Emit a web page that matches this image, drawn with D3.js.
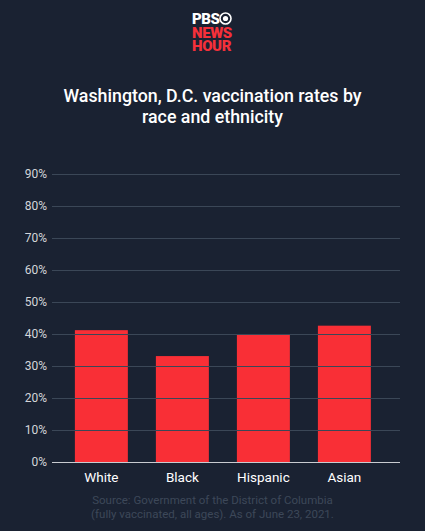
<!DOCTYPE html>
<html><head><meta charset="utf-8">
<script src="https://cdn.jsdelivr.net/npm/d3@7"></script>
<style>html,body{margin:0;padding:0;background:#1a2232;}svg{display:block;}</style>
</head><body>
<svg id="c" width="425" height="531"></svg>
<script>
const categories = ["White", "Black", "Hispanic", "Asian"];
const values = [41.2, 33.1, 40.0, 42.6];
const yTicks = [0, 10, 20, 30, 40, 50, 60, 70, 80, 90];
const titleLines = ["Washington, D.C. vaccination rates by", "race and ethnicity"];
const sourceLines = ["Source: Government of the District of Columbia", "(fully vaccinated, all ages). As of June 23, 2021."];

const svg = d3.select("#c");
const W = 425, H = 531;
svg.append("rect").attr("width", W).attr("height", H).attr("fill", "#1a2232");

// logo
const logo = svg.append("g").attr("font-family", "Roboto, 'Open Sans', sans-serif").attr("font-weight", 900);
logo.append("text").attr("x", 192).attr("y", 24).attr("font-size", 15).attr("fill", "#fff").attr("letter-spacing", -0.5).text("PBS");
logo.append("circle").attr("cx", 225.5).attr("cy", 18.5).attr("r", 5.5).attr("fill", "none").attr("stroke", "#fff").attr("stroke-width", 1.6);
logo.append("circle").attr("cx", 225.5).attr("cy", 18.5).attr("r", 2.6).attr("fill", "#fff");
logo.append("text").attr("x", 192).attr("y", 37.5).attr("font-size", 15).attr("fill", "#f5303a").attr("letter-spacing", -0.4).text("NEWS");
logo.append("text").attr("x", 192).attr("y", 50.5).attr("font-size", 15).attr("fill", "#f5303a").attr("letter-spacing", -0.4).text("HOUR");

// title
svg.append("g").selectAll("text").data(titleLines).join("text")
  .attr("x", 212.5).attr("y", (d, i) => 102 + i * 21)
  .attr("text-anchor", "middle").attr("fill", "#ffffff")
  .attr("font-family", "Roboto, sans-serif").attr("font-weight", 500).attr("font-size", 17.8)
  .text(d => d);

const x = d3.scaleBand().domain(categories).range([52, 400]).paddingInner(0.346).paddingOuter(0.321).align(0.44);
const y = d3.scaleLinear().domain([0, 90]).range([462, 174]);

// grid
const yAxis = d3.axisLeft(y).tickValues(yTicks).tickFormat(d => d + "%").tickSize(-348).tickPadding(5);
const gy = svg.append("g").attr("transform", "translate(52,0)").call(yAxis);
gy.select(".domain").remove();
gy.selectAll(".tick line").attr("stroke", d => d === 0 ? "#c9ccd1" : "#3b4757").attr("stroke-width", d => d === 0 ? 1.2 : 1);
gy.selectAll(".tick text").attr("fill", "#d4d6da").attr("font-family", "Roboto, sans-serif").attr("font-size", 12);

// bars
svg.append("g").selectAll("rect").data(values).join("rect")
  .attr("x", (d, i) => x(categories[i])).attr("width", x.bandwidth())
  .attr("y", d => y(d)).attr("height", d => y(0) - y(d))
  .attr("fill", "#f92f36");
// redraw axis on top so the baseline shows over the bars
svg.node().appendChild(gy.node());

// x axis labels
const xAxis = d3.axisBottom(x).tickSize(0).tickPadding(10);
const gx = svg.append("g").attr("transform", "translate(0,462)").call(xAxis);
gx.select(".domain").remove();
gx.selectAll(".tick text").attr("fill", "#ffffff").attr("font-family", "Roboto, sans-serif").attr("font-size", 13.5);

// source
svg.append("g").selectAll("text").data(sourceLines).join("text")
  .attr("x", 212.5).attr("y", (d, i) => 504 + i * 14)
  .attr("text-anchor", "middle").attr("fill", "#3d4859")
  .attr("font-family", "Roboto, sans-serif").attr("font-size", 11.5)
  .text(d => d);
</script>
</body></html>
